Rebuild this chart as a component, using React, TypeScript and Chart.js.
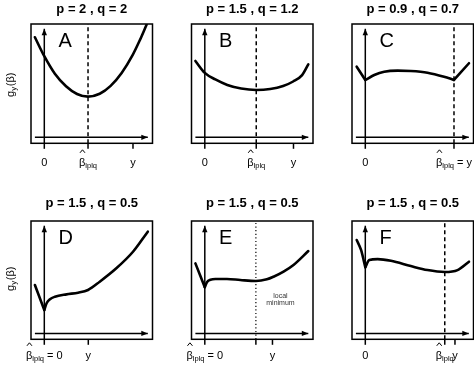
import React, { useEffect, useRef } from 'react';
import { Chart, registerables } from 'chart.js';

Chart.register(...registerables);

const W = 474;
const H = 365;
const FONT = '"Liberation Sans", Arial, Helvetica, sans-serif';

// shared scale ranges (beta on x, g_y(beta) on y)
const X_MIN = -0.15;
const X_MAX = 1.22;
const Y_MIN = 0;
const Y_MAX = 100;

// panel titles and letters
const titles = [
  'p = 2 , q = 2',
  'p = 1.5 , q = 1.2',
  'p = 0.9 , q = 0.7',
  'p = 1.5 , q = 0.5',
  'p = 1.5 , q = 0.5',
  'p = 1.5 , q = 0.5',
];
const letters = ['A', 'B', 'C', 'D', 'E', 'F'];
const yAxisLabel = 'gy(β)';
const noteLines = ['local', 'minimum'];

// ---- curve data ----
const aBeta = [-0.106, 0, 0.119, 0.245, 0.369, 0.493, 0.625, 0.748, 0.872, 0.997, 1.074, 1.153];
const aG = [88.9, 73.0, 58.3, 47.8, 41.3, 39.1, 41.5, 48.1, 58.9, 74.1, 85.9, 99.4];

const bBeta = [-0.106, 0, 0.119, 0.254, 0.41, 0.58, 0.737, 0.883, 0.996, 1.097, 1.167];
const bG = [69.0, 59.0, 53.5, 48.9, 45.9, 44.7, 45.5, 48.0, 51.8, 57.2, 66.2];

const cLeftBeta = [-0.097, 0];
const cLeftG = [64.2, 53.1];
const cMidBeta = [0, 0.101, 0.213, 0.364, 0.513, 0.701, 0.888, 1.0];
const cMidG = [53.1, 57.2, 60.0, 60.9, 60.6, 59.2, 55.8, 53.1];
const cRightBeta = [1.0, 1.169];
const cRightG = [53.1, 67.1];

const dLeftBeta = [-0.106, 0];
const dLeftG = [45.9, 24.8];
const dRightBeta = [0, 0.026, 0.064, 0.12, 0.25, 0.381, 0.493, 0.625, 0.812, 1.0, 1.167];
const dRightG = [24.8, 30.5, 33.9, 36.0, 38.0, 39.4, 41.7, 48.7, 60.0, 74.0, 91.0];

const eLeftBeta = [-0.106, 0];
const eLeftG = [64.2, 44.0];
const eRightBeta = [0, 0.026, 0.064, 0.119, 0.25, 0.4, 0.576, 0.7, 0.775, 0.888, 1.0, 1.167];
const eRightG = [44.0, 48.5, 50.3, 51.0, 51.0, 50.1, 49.3, 50.7, 52.9, 57.2, 62.8, 74.6];

const fLeftBeta = [-0.097, -0.048, 0];
const fLeftG = [83.9, 75.5, 60.9];
const fRightBeta = [0, 0.045, 0.139, 0.289, 0.513, 0.701, 0.896, 1.04, 1.169];
const fRightG = [60.9, 67.0, 67.8, 66.4, 61.9, 58.5, 56.9, 58.5, 65.6];

// beta-hat reference lines (null = none)
const refBeta = [0.493, 0.58, 1.0, null, 0.576, 0.896];

// tick positions and labels below each panel
const tickBeta = [
  [0, 0.493, 1.0],
  [0, 0.58, 1.0],
  [0, 1.0],
  [0, 0.496],
  [0, 0.576, 0.763],
  [0, 0.896, 1.011],
];
const HAT = 'β\u0302lplq';
const tickLabels = [
  ['0', HAT, 'y'],
  ['0', HAT, 'y'],
  ['0', HAT + ' = y'],
  [HAT + ' = 0', 'y'],
  [HAT + ' = 0', '', 'y'],
  ['0', HAT, 'y'],
];

// axis arrows inside each panel
const hArrowBeta = [-0.106, 1.167];
const hArrowG = 5;
const vArrowG = [0, 96];

// annotation anchors (data coords)
const letterBeta = 0.16;
const letterG = 80.4;
const noteBeta = 0.853;
const noteG = [35.3, 29.0];

// ---- layout ----
const colLeft = [31, 191.5, 352];
const BOX_W = 121.5;
const rowTop = [24, 221];
const rowBottom = [143.3, 339.3];
const titleBaseline = [12.7, 207.3];
const labelBaseline = [166.3, 359.3];
const yLabelCenter = [85, 279];

const segments = [
  [[aBeta, aG]],
  [[bBeta, bG]],
  [[cLeftBeta, cLeftG], [cMidBeta, cMidG], [cRightBeta, cRightG]],
  [[dLeftBeta, dLeftG], [dRightBeta, dRightG]],
  [[eLeftBeta, eLeftG], [eRightBeta, eRightG]],
  [[fLeftBeta, fLeftG], [fRightBeta, fRightG]],
];

function drawArrow(ctx: CanvasRenderingContext2D, x1: number, y1: number, x2: number, y2: number) {
  ctx.beginPath();
  ctx.moveTo(x1, y1);
  ctx.lineTo(x2, y2);
  ctx.stroke();
  const ang = Math.atan2(y2 - y1, x2 - x1);
  const len = 7;
  const spread = Math.PI / 8;
  ctx.beginPath();
  ctx.moveTo(x2, y2);
  ctx.lineTo(x2 - len * Math.cos(ang - spread), y2 - len * Math.sin(ang - spread));
  ctx.lineTo(x2 - len * Math.cos(ang + spread), y2 - len * Math.sin(ang + spread));
  ctx.closePath();
  ctx.fill();
}

function drawTickLabel(ctx: CanvasRenderingContext2D, label: string, cx: number, base: number) {
  const main = `11px ${FONT}`;
  const sub = `7.5px ${FONT}`;
  ctx.fillStyle = '#000';
  ctx.textBaseline = 'alphabetic';
  if (label.startsWith(HAT)) {
    const rest = label.slice(HAT.length);
    ctx.font = main;
    const wb = ctx.measureText('β').width;
    const wr = ctx.measureText(rest).width;
    ctx.font = sub;
    const ws = ctx.measureText('lplq').width;
    const x0 = cx - (wb + ws + wr) / 2;
    ctx.textAlign = 'left';
    ctx.font = main;
    ctx.fillText('β', x0, base);
    const hc = x0 + wb / 2 + 0.3;
    ctx.lineWidth = 1;
    ctx.strokeStyle = '#000';
    ctx.beginPath();
    ctx.moveTo(hc - 2.5, base - 13.5);
    ctx.lineTo(hc, base - 16.5);
    ctx.lineTo(hc + 2.5, base - 13.5);
    ctx.stroke();
    ctx.font = sub;
    ctx.fillText('lplq', x0 + wb, base + 1.5);
    ctx.font = main;
    ctx.fillText(rest, x0 + wb + ws, base);
  } else if (label) {
    ctx.font = main;
    ctx.textAlign = 'center';
    ctx.fillText(label, cx, base);
  }
}

function drawYLabel(ctx: CanvasRenderingContext2D, cx: number, cy: number) {
  ctx.save();
  ctx.translate(cx, cy);
  ctx.rotate(-Math.PI / 2);
  ctx.fillStyle = '#000';
  ctx.textAlign = 'left';
  ctx.textBaseline = 'alphabetic';
  const main = `11px ${FONT}`;
  const sub = `8px ${FONT}`;
  const g = yAxisLabel.slice(0, 1);
  const s = yAxisLabel.slice(1, 2);
  const r = yAxisLabel.slice(2);
  ctx.font = main;
  const wg = ctx.measureText(g).width;
  const wr = ctx.measureText(r).width;
  ctx.font = sub;
  const ws = ctx.measureText(s).width;
  const x0 = -(wg + ws + wr) / 2;
  const base = 3.5;
  ctx.font = main;
  ctx.fillText(g, x0, base);
  ctx.font = sub;
  ctx.fillText(s, x0 + wg, base + 2.5);
  ctx.font = main;
  ctx.fillText(r, x0 + wg + ws + 0.5, base);
  ctx.restore();
}

function makePlugin(i: number) {
  const row = Math.floor(i / 3);
  return {
    id: 'panelDecor' + i,
    beforeDatasetsDraw(chart: any) {
      const { ctx, chartArea: a, scales } = chart;
      const xs = scales.x;
      const ys = scales.y;
      ctx.save();
      ctx.strokeStyle = '#000';
      ctx.fillStyle = '#000';
      ctx.lineWidth = 1.5;
      ctx.strokeRect(a.left, a.top, a.right - a.left, a.bottom - a.top);
      // axis arrows
      const hy = ys.getPixelForValue(hArrowG);
      drawArrow(ctx, xs.getPixelForValue(hArrowBeta[0]), hy, xs.getPixelForValue(hArrowBeta[1]), hy);
      const vx = xs.getPixelForValue(0);
      drawArrow(ctx, vx, ys.getPixelForValue(vArrowG[0]), vx, ys.getPixelForValue(vArrowG[1]));
      // ticks
      tickBeta[i].forEach((b) => {
        const px = xs.getPixelForValue(b);
        ctx.beginPath();
        ctx.moveTo(px, a.bottom);
        ctx.lineTo(px, a.bottom + 5.5);
        ctx.stroke();
      });
      ctx.restore();
    },
    afterDatasetsDraw(chart: any) {
      const { ctx, chartArea: a, scales } = chart;
      const xs = scales.x;
      const ys = scales.y;
      ctx.save();
      // title
      ctx.fillStyle = '#000';
      ctx.font = `bold 13px ${FONT}`;
      ctx.textAlign = 'center';
      ctx.textBaseline = 'alphabetic';
      ctx.fillText(titles[i], (a.left + a.right) / 2, titleBaseline[row]);
      // panel letter
      ctx.font = `20px ${FONT}`;
      ctx.textAlign = 'left';
      ctx.fillText(letters[i], xs.getPixelForValue(letterBeta), ys.getPixelForValue(letterG));
      // tick labels
      tickBeta[i].forEach((b, k) => {
        drawTickLabel(ctx, tickLabels[i][k], xs.getPixelForValue(b), labelBaseline[row]);
      });
      // note in panel E
      if (i === 4) {
        ctx.font = `7px ${FONT}`;
        ctx.fillStyle = '#333';
        ctx.textAlign = 'center';
        noteLines.forEach((t, k) => ctx.fillText(t, xs.getPixelForValue(noteBeta), ys.getPixelForValue(noteG[k])));
      }
      // y-axis label for the leftmost column
      if (i % 3 === 0) drawYLabel(ctx, 10, yLabelCenter[row]);
      ctx.restore();
    },
  };
}

function buildConfig(i: number): any {
  const row = Math.floor(i / 3);
  const col = i % 3;
  const left = colLeft[col];
  const right = left + BOX_W;
  const datasets: any[] = segments[i].map(([bx, gy]) => ({
    data: bx.map((x: number, k: number) => ({ x, y: gy[k] })),
    borderColor: '#000',
    borderWidth: 2.6,
    borderCapStyle: 'round',
    borderJoinStyle: 'round',
    pointRadius: 0,
    cubicInterpolationMode: 'monotone',
    fill: false,
  }));
  const r = refBeta[i];
  if (r !== null) {
    const dotted = i === 4;
    datasets.push({
      data: [
        { x: r, y: Y_MIN },
        { x: r, y: Y_MAX },
      ],
      borderColor: '#000',
      borderWidth: dotted ? 1.2 : 1.5,
      borderDash: dotted ? [1.2, 2.4] : [4, 3],
      pointRadius: 0,
      tension: 0,
      fill: false,
    });
  }
  return {
    type: 'line',
    data: { datasets },
    options: {
      responsive: false,
      maintainAspectRatio: false,
      animation: false,
      devicePixelRatio: 1,
      events: [],
      layout: {
        padding: { left, top: rowTop[row], right: W - right, bottom: H - rowBottom[row] },
      },
      scales: {
        x: { type: 'linear', min: X_MIN, max: X_MAX, display: false },
        y: { type: 'linear', min: Y_MIN, max: Y_MAX, display: false },
      },
      plugins: {
        legend: { display: false },
        tooltip: { enabled: false },
        title: { display: false },
      },
    },
    plugins: [makePlugin(i)],
  };
}

export default function App() {
  const refs = useRef<(HTMLCanvasElement | null)[]>([]);
  useEffect(() => {
    const charts = letters.map((_, i) => new Chart(refs.current[i] as HTMLCanvasElement, buildConfig(i)));
    return () => charts.forEach((c) => c.destroy());
  }, []);
  return (
    <div style={{ position: 'fixed', left: 0, top: 0, width: W, height: H, background: '#fff' }}>
      {letters.map((l, i) => (
        <canvas
          key={l}
          ref={(el) => {
            refs.current[i] = el;
          }}
          width={W}
          height={H}
          style={{ position: 'absolute', left: 0, top: 0, width: W, height: H }}
        />
      ))}
    </div>
  );
}
